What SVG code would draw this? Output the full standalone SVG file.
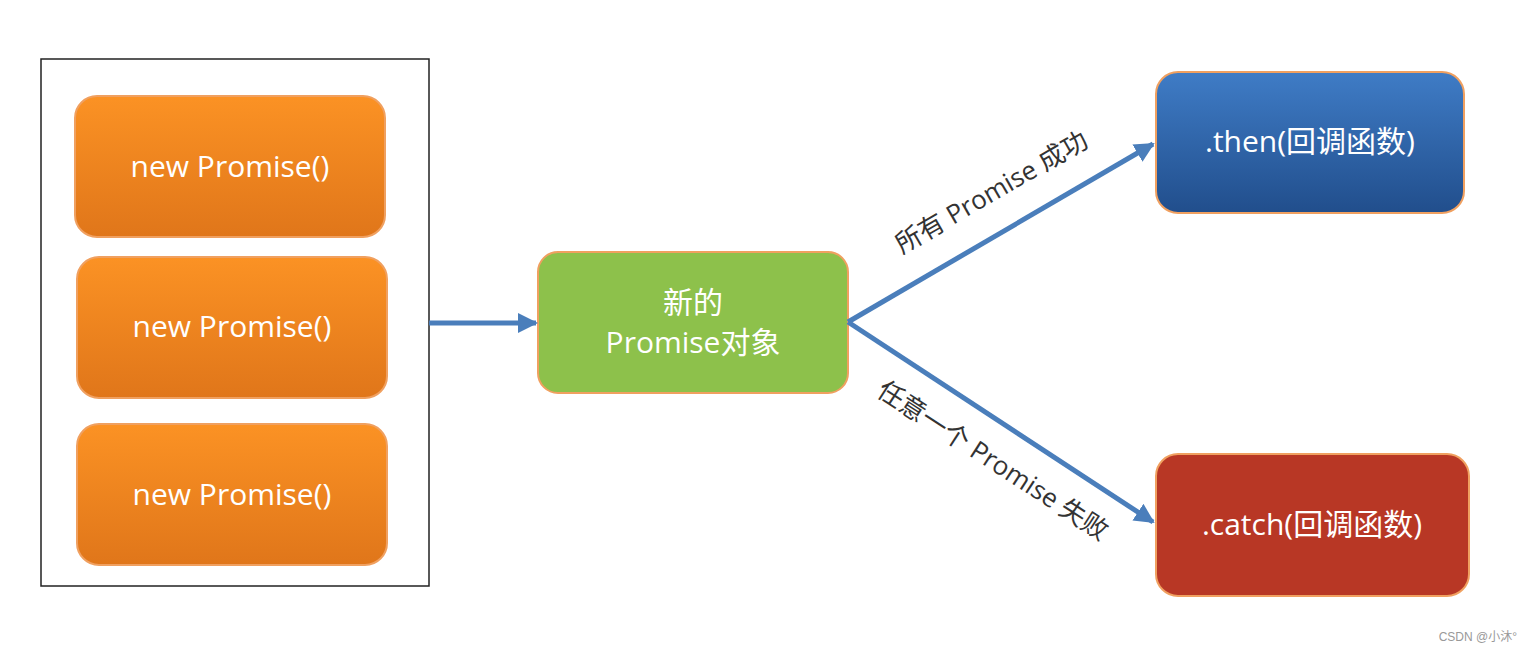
<svg xmlns="http://www.w3.org/2000/svg" width="1531" height="652" viewBox="0 0 1531 652">
<defs>
<linearGradient id="og" x1="0" y1="0" x2="0" y2="1"><stop offset="0" stop-color="#fb9224"/><stop offset="1" stop-color="#e0761a"/></linearGradient>
<linearGradient id="bg" x1="0" y1="0" x2="0" y2="1"><stop offset="0" stop-color="#3f7cc6"/><stop offset="1" stop-color="#214e8c"/></linearGradient>
<marker id="ah" viewBox="0 0 10 10" refX="9" refY="5" markerWidth="4" markerHeight="4" orient="auto" markerUnits="strokeWidth"><path d="M0,0L10,5L0,10z" fill="#4a7ebb"/></marker>
<style>
.n{stroke:#f0a060;stroke-width:2}
.t{font-family:"Open Sans","Noto Sans CJK SC",sans-serif;fill:#fff;font-size:30px;text-anchor:middle}
.l{font-family:"Open Sans","Noto Sans CJK SC",sans-serif;fill:#333;font-size:26px;text-anchor:middle}
.c{stroke:#4a7ebb;stroke-width:5;fill:none;marker-end:url(#ah)}
</style>
</defs>
<rect x="0" y="0" width="1531" height="652" fill="#fff"/>
<g id="container"><rect x="41" y="59" width="388" height="527" fill="none" stroke="#222" stroke-width="1.5"/></g>
<g id="p1"><rect class="n" x="75" y="96" width="310" height="141" rx="22" fill="url(#og)"/><text class="t" x="230" y="177">new Promise()</text></g>
<g id="p2"><rect class="n" x="77" y="257" width="310" height="141" rx="22" fill="url(#og)"/><text class="t" x="232" y="337">new Promise()</text></g>
<g id="p3"><rect class="n" x="77" y="424" width="310" height="141" rx="22" fill="url(#og)"/><text class="t" x="232" y="505">new Promise()</text></g>
<g id="newp"><rect class="n" x="538" y="252" width="310" height="141" rx="20" fill="#8dc14b"/><text class="t" x="693" y="313">新的</text><text class="t" x="693" y="353">Promise对象</text></g>
<g id="then"><rect class="n" x="1156" y="72" width="308" height="141" rx="22" fill="url(#bg)"/><text class="t" x="1310" y="152">.then(回调函数)</text></g>
<g id="catch"><rect class="n" x="1156" y="454" width="313" height="142" rx="22" fill="#b83725"/><text class="t" x="1312" y="535">.catch(回调函数)</text></g>
<g id="connectors">
<line class="c" x1="429" y1="323" x2="536" y2="323"/>
<line class="c" x1="848" y1="322" x2="1153" y2="144"/>
<line class="c" x1="848" y1="322" x2="1153" y2="522"/>
<text class="l" transform="translate(996,200) rotate(-30)">所有 Promise 成功</text>
<text class="l" transform="translate(988,468) rotate(33)">任意一个 Promise 失败</text>
</g>
<text x="1517" y="641" font-family="Liberation Sans,Noto Sans CJK SC,sans-serif" font-size="12" fill="#999" text-anchor="end">CSDN @小沐°</text>
</svg>
